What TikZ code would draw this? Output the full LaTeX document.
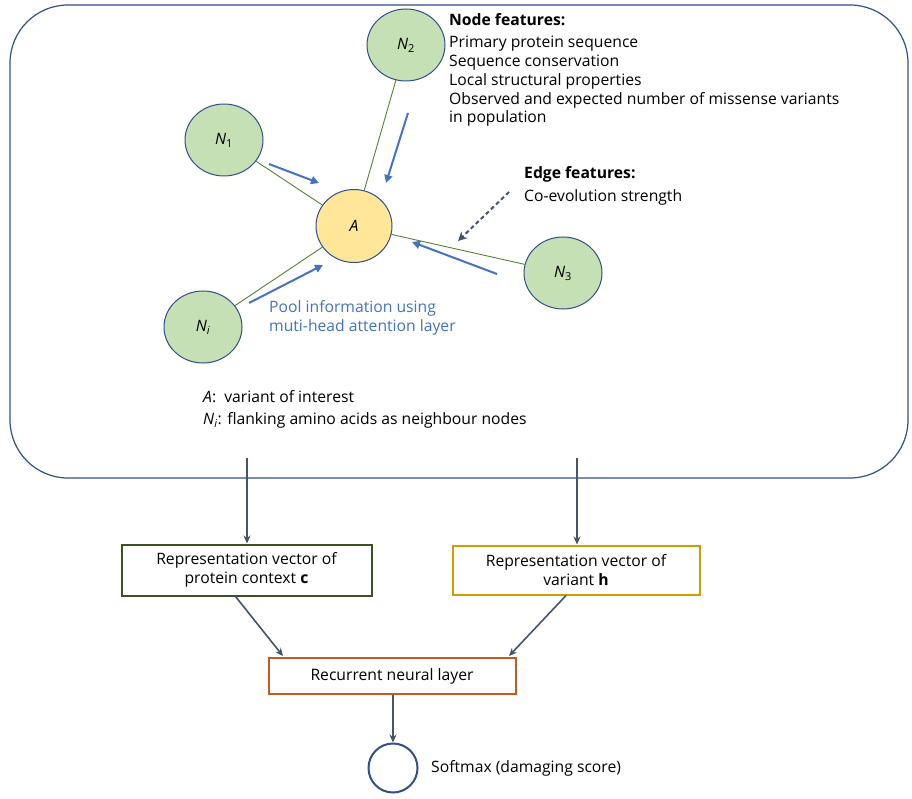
\documentclass[tikz,border=0pt]{standalone}
\usepackage{fontspec}
\setmainfont{Open Sans}
\usetikzlibrary{arrows.meta,shapes.geometric}
\definecolor{frameblue}{HTML}{2F4F8F}
\definecolor{nodegreen}{HTML}{C5E0B4}
\definecolor{nodeyellow}{HTML}{FFE699}
\definecolor{arrowblue}{HTML}{4472C4}
\definecolor{edgegreen}{HTML}{548235}
\definecolor{darkarrow}{HTML}{44546A}
\definecolor{boxgreen}{HTML}{3B5323}
\definecolor{boxgold}{HTML}{C9A000}
\definecolor{boxorange}{HTML}{C65A1E}
\definecolor{textblue}{HTML}{4472C4}
\tikzset{
  x=1pt,y=-1pt,
  every node/.style={font=\fontsize{15.7}{19.5}\selectfont},
  gnode/.style={ellipse,draw=frameblue,line width=1pt,fill=nodegreen,minimum width=78pt,minimum height=72pt,inner sep=0pt},
  anode/.style={ellipse,draw=frameblue,line width=1pt,fill=nodeyellow,minimum width=76pt,minimum height=73pt,inner sep=0pt},
  gedge/.style={draw=edgegreen,line width=0.9pt},
  barrow/.style={draw=arrowblue,line width=2pt,-{Triangle[length=8pt,width=8pt]}},
  darrow/.style={draw=darkarrow,line width=1.6pt,-{Stealth[length=8pt,width=7pt]}},
  dasharrow/.style={draw=darkarrow,line width=2pt,dash pattern=on 4pt off 3pt,-{Stealth[length=9pt,width=9pt]}},
  rbox/.style={draw,line width=2pt,fill=white,align=center,inner sep=0pt},
  txt/.style={anchor=west,inner sep=0pt,align=left},
}
\begin{document}
\begin{tikzpicture}
\useasboundingbox (0,0) rectangle (912,799);
% frame
\draw[frameblue,line width=1.2pt,rounded corners=58pt] (10,5) rectangle (908,478);

% nodes
\node[anode] (A) at (354,226) {\textit{A}};
\node[gnode] (N1) at (224,140) {\textit{N}\textsubscript{1}};
\node[gnode] (N2) at (406,45) {\textit{N}\textsubscript{2}};
\node[gnode] (N3) at (563,273) {\textit{N}\textsubscript{3}};
\node[gnode] (Ni) at (203,327) {\textit{N}\textsubscript{\textit{i}}};

% green edges
\draw[gedge] (N1) -- (A);
\draw[gedge] (N2) -- (A);
\draw[gedge] (N3) -- (A);
\draw[gedge] (Ni) -- (A);

% blue arrows
\coordinate (b1s) at (269,164); \coordinate (b1e) at (319,183);
\coordinate (b2s) at (408,113); \coordinate (b2e) at (386,183);
\coordinate (b3s) at (497,274); \coordinate (b3e) at (412,242);
\coordinate (b4s) at (249,303); \coordinate (b4e) at (323,265);
\draw[barrow] (b1s) -- (b1e);
\draw[barrow] (b2s) -- (b2e);
\draw[barrow] (b3s) -- (b3e);
\draw[barrow] (b4s) -- (b4e);

% dashed edge feature arrow
\coordinate (ds) at (509,192); \coordinate (de) at (458,241);
\draw[dasharrow] (ds) -- (de);

% texts
\node[txt] (nf) at (449,20) {\textbf{Node features:}};
\node[txt] (nf1) at (449,44) {Primary protein sequence};
\node[txt] (nf2) at (449,62.5) {Sequence conservation};
\node[txt] (nf3) at (449,81) {Local structural properties};
\node[txt] (nf4) at (449,100) {Observed and expected number of missense variants};
\node[txt] (nf5) at (449,118.5) {in population};

\node[txt] (ef) at (524,174) {\textbf{Edge features:}};
\node[txt] (ef1) at (524,197) {Co-evolution strength};

\node[txt,text=textblue] (pool) at (269,308) {Pool information using};
\node[txt,text=textblue] (pool2) at (269,327) {muti-head attention layer};

\node[txt] (leg1) at (203,397) {\textit{A}:\ \ variant of interest};
\node[txt] (leg2) at (203,420) {\textit{N}\textsubscript{\textit{i}}: flanking amino acids as neighbour nodes};

% lower boxes
\node[rbox,draw=boxgreen,minimum width=250pt,minimum height=51pt] (C) at (246.5,570) {Representation vector of\\protein context \textbf{c}};
\node[rbox,draw=boxgold,minimum width=247pt,minimum height=49pt] (H) at (576,570) {Representation vector of\\variant \textbf{h}};
\node[rbox,draw=boxorange,minimum width=247pt,minimum height=36pt] (R) at (392,676) {Recurrent neural layer};
\node[circle,draw=frameblue,line width=2pt,minimum size=49pt,inner sep=0pt] (S) at (393,768) {};
\node[txt] (st) at (431,768) {Softmax (damaging score)};

% dark arrows
\coordinate (v1) at (247,458);
\coordinate (v2) at (577,458);
\draw[darrow] (v1) -- (v1 |- C.north);
\draw[darrow] (v2) -- (v2 |- H.north);
\draw[darrow] (C.south) ++(-11,0) coordinate (c1) -- (283,656);
\draw[darrow] (H.south) ++(-10,0) coordinate (h1) -- (509,656);
\draw[darrow] (R.south) ++(1,0) coordinate (r1) -- (S.north);
\end{tikzpicture}
\end{document}
